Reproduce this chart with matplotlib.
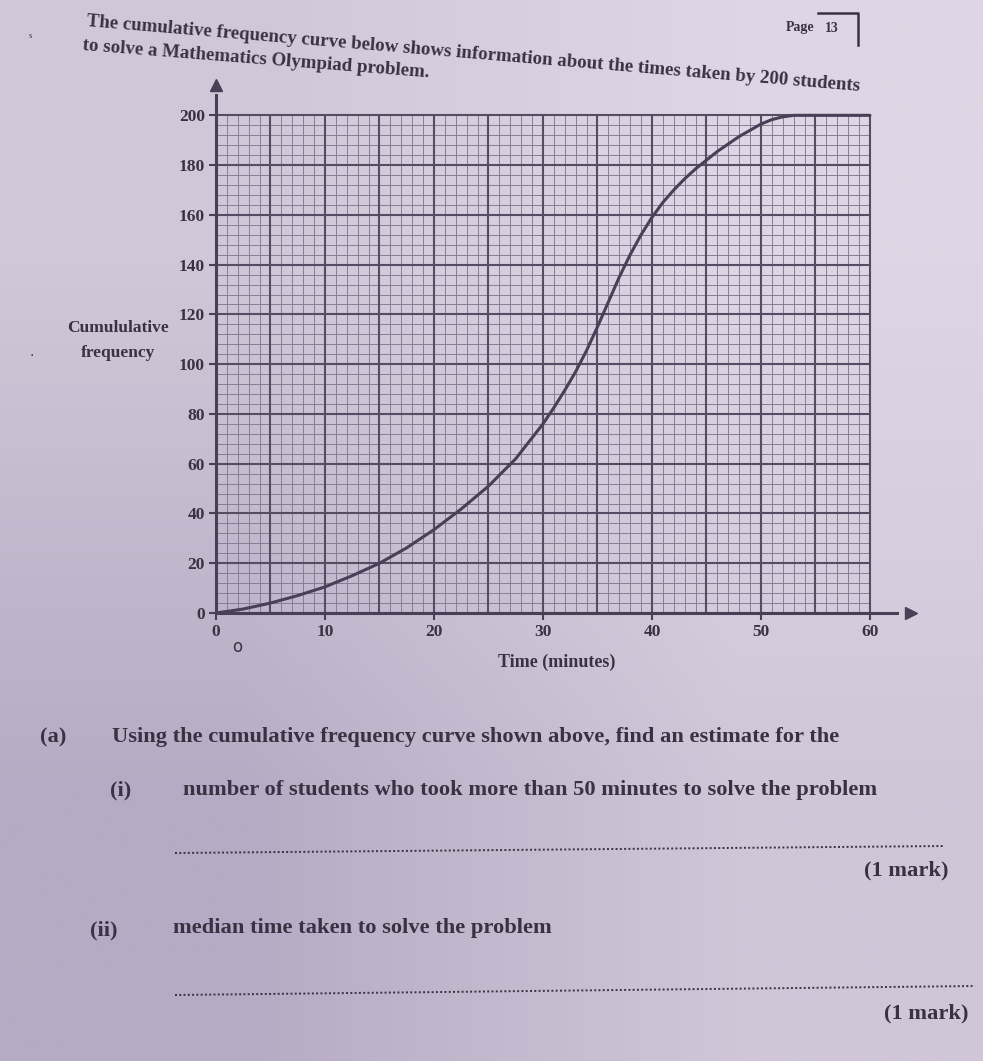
import numpy as np
import matplotlib
matplotlib.use("Agg")
import matplotlib.pyplot as plt

# Values (time in minutes, cumulative frequency)
times = [0, 2.5, 5, 7.5, 10, 12.5, 15, 17.5, 20, 22.5, 25, 27.5, 30,
         31, 32, 33, 34, 35, 36, 37, 38, 39, 40, 41, 42, 43, 44, 45,
         46, 47, 48, 49, 50, 51, 52, 53, 55, 60]
cum_freq = [0, 1.6, 4, 7, 10.5, 15, 20, 26.2, 33.5, 41.8, 51, 62, 76,
            82.5, 89.5, 97, 105.5, 115, 125, 135, 144, 152, 159, 165, 170, 174.5, 178.5, 182,
            185.5, 188.5, 191.5, 194, 196.5, 198.3, 199.4, 200, 200, 200]

x_ticks = [0, 10, 20, 30, 40, 50, 60]
y_ticks = [0, 20, 40, 60, 80, 100, 120, 140, 160, 180, 200]

W, H = 983, 1061
INK = '#3b3142'
SERIF = 'Liberation Serif'

fig = plt.figure(figsize=(W / 100, H / 100), dpi=100)

# page layer in pixel coordinates
page = fig.add_axes([0, 0, 1, 1])
page.set_xlim(0, W)
page.set_ylim(H, 0)
page.axis('off')

# uneven lighting of the photographed page
corners = np.array([[[208, 200, 216], [222, 214, 228]],
                    [[182, 171, 196], [208, 198, 216]]]) / 255.0
page.imshow(corners, extent=(0, W, H, 0), interpolation='bilinear', aspect='auto', zorder=0)

# header
page.text(800, 28, 'Page', fontsize=10, family=SERIF, fontweight='bold', color=INK, ha='center', va='center')
page.text(832, 28, '13', fontsize=10, family=SERIF, fontweight='bold', color=INK, ha='center', va='center')
page.plot([818, 858, 858], [13, 13, 45], color=INK, lw=1.8)
page.text(30, 36, 's', fontsize=6, family=SERIF, color=INK, ha='center', va='center')
page.text(87, 22, 'The cumulative frequency curve below shows information about the times taken by 200 students',
          fontsize=13.6, family=SERIF, fontweight='bold', color=INK, ha='left', va='center',
          rotation=-4.8, rotation_mode='anchor')
page.text(83, 46, 'to solve a Mathematics Olympiad problem.',
          fontsize=13.6, family=SERIF, fontweight='bold', color=INK, ha='left', va='center',
          rotation=-4.5, rotation_mode='anchor')

# axis titles
page.text(118, 328, 'Cumululative', fontsize=12.5, family=SERIF, fontweight='bold', color=INK, ha='center', va='center')
page.text(118, 353, 'frequency', fontsize=12.5, family=SERIF, fontweight='bold', color=INK, ha='center', va='center')
page.text(32, 352, '.', fontsize=10, color=INK, ha='center', va='center')
page.text(557, 662, 'Time (minutes)', fontsize=13, family=SERIF, fontweight='bold', color=INK, ha='center', va='center')
page.text(237, 647, 'o', fontsize=12, family='DejaVu Sans', color=INK, ha='center', va='center')

# questions
qs = dict(fontsize=16.2, family=SERIF, fontweight='bold', color=INK, va='center')
page.text(40, 737, '(a)', ha='left', **qs)
page.text(112, 737, 'Using the cumulative frequency curve shown above, find an estimate for the', ha='left', **qs)
page.text(110, 790, '(i)', ha='left', **qs)
page.text(183, 790, 'number of students who took more than 50 minutes to solve the problem', ha='left', **qs)
page.plot([175, 945], [853, 846], color=INK, lw=1.4, ls=(0, (1, 1.2)))
page.text(948, 870, '(1 mark)', ha='right', **qs)
page.text(90, 930, '(ii)', ha='left', **qs)
page.text(173, 928, 'median time taken to solve the problem', ha='left', **qs)
page.plot([175, 975], [995, 986], color=INK, lw=1.4, ls=(0, (1, 1.2)))
page.text(968, 1013, '(1 mark)', ha='right', **qs)

# chart
x0, x1 = 216, 919
y0, y1 = 613, 83
ax = fig.add_axes([x0 / W, (H - y0) / H, (x1 - x0) / W, (y0 - y1) / H])
ax.patch.set_alpha(0)
ax.set_xlim(0, 64.5)
ax.set_ylim(0, 213)

# graph paper
ax.vlines(np.arange(0, 61, 1), 0, 200, color='#887d95', lw=0.7, zorder=1)
ax.hlines(np.arange(0, 201, 4), 0, 60, color='#887d95', lw=0.7, zorder=1)
ax.vlines(np.arange(0, 61, 5), 0, 200, color='#574c63', lw=1.5, zorder=2)
ax.hlines(np.arange(0, 201, 20), 0, 60, color='#574c63', lw=1.5, zorder=2)

ax.plot(times, cum_freq, color='#4a3f56', lw=2.2, zorder=3, solid_capstyle='round', solid_joinstyle='round')

for side in ['top', 'right']:
    ax.spines[side].set_visible(False)
ax.spines['left'].set_bounds(0, 208)
ax.spines['bottom'].set_bounds(0, 62.5)
for side in ['left', 'bottom']:
    ax.spines[side].set_color('#4a3f56')
    ax.spines[side].set_linewidth(2.2)
ax.plot(0, 212, '^', color='#4a3f56', ms=9, clip_on=False, zorder=4)
ax.plot(63.8, 0, '>', color='#4a3f56', ms=9, clip_on=False, zorder=4)

ax.set_xticks(x_ticks)
ax.set_yticks(y_ticks)
ax.set_xticklabels([str(v) for v in x_ticks])
ax.set_yticklabels([str(v) for v in y_ticks])
ax.tick_params(axis='both', length=5, width=1.5, color='#4a3f56', labelcolor=INK, labelsize=12.5, pad=3)
for lab in ax.get_xticklabels() + ax.get_yticklabels():
    lab.set_family(SERIF)
    lab.set_fontweight('bold')

fig.savefig('out.png', dpi=100)
